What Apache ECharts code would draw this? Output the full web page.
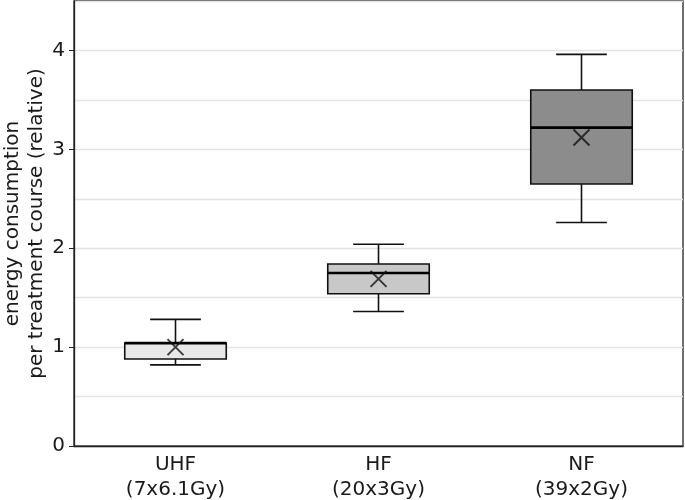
<!DOCTYPE html>
<html>
<head>
<meta charset="utf-8">
<script src="https://cdn.jsdelivr.net/npm/echarts@6/dist/echarts.min.js"></script>
<style>
  html, body { margin: 0; padding: 0; background: #fff; }
  #chart { width: 685px; height: 500px; }
</style>
</head>
<body>
<div id="chart"></div>
<script>
// categories and box statistics
const categories = ['UHF\n(7x6.1Gy)', 'HF\n(20x3Gy)', 'NF\n(39x2Gy)'];
const lowWhisker = [0.82, 1.36, 2.26];
const q1 = [0.88, 1.54, 2.65];
const median = [1.04, 1.75, 3.22];
const q3 = [1.04, 1.84, 3.60];
const highWhisker = [1.28, 2.04, 3.96];
const means = [1.00, 1.69, 3.12];
const yTicks = [0, 1, 2, 3, 4];
const boxColors = ['#e8e8e8', '#c8c8c8', '#8c8c8c'];

const boxData = categories.map((c, i) => [i, lowWhisker[i], q1[i], median[i], q3[i], highWhisker[i]]);
const meanData = means.map((m, i) => [i, m]);

const chart = echarts.init(document.getElementById('chart'));

const renderBox = (params, api) => {
    const i = api.value(0);
    const band = api.size([1, 0])[0];
    const half = band * 0.25;
    const cap = band * 0.125;
    const pLow = api.coord([i, api.value(1)]);
    const pQ1 = api.coord([i, api.value(2)]);
    const pMed = api.coord([i, api.value(3)]);
    const pQ3 = api.coord([i, api.value(4)]);
    const pHigh = api.coord([i, api.value(5)]);
    const x = pLow[0];
    const line = { stroke: '#111', lineWidth: 1.6 };
    return {
        type: 'group',
        children: [
            { type: 'line', shape: { x1: x, y1: pQ3[1], x2: x, y2: pHigh[1] }, style: line },
            { type: 'line', shape: { x1: x, y1: pQ1[1], x2: x, y2: pLow[1] }, style: line },
            { type: 'line', shape: { x1: x - cap, y1: pHigh[1], x2: x + cap, y2: pHigh[1] }, style: line },
            { type: 'line', shape: { x1: x - cap, y1: pLow[1], x2: x + cap, y2: pLow[1] }, style: line },
            {
                type: 'rect',
                shape: { x: x - half, y: pQ3[1], width: half * 2, height: pQ1[1] - pQ3[1] },
                style: { fill: boxColors[i], stroke: '#111', lineWidth: 1.6 }
            },
            { type: 'line', shape: { x1: x - half, y1: pMed[1], x2: x + half, y2: pMed[1] }, style: { stroke: '#000', lineWidth: 2.6 } }
        ]
    };
};

chart.setOption({
    animation: false,
    grid: {
        left: 74, right: 2, top: 1, bottom: 54,
        outerBoundsMode: 'none', containLabel: false,
        show: true, borderColor: '#222', borderWidth: 1.3
    },
    xAxis: {
        type: 'category',
        data: categories,
        boundaryGap: true,
        axisLine: { lineStyle: { color: '#222', width: 1.3 } },
        axisTick: { alignWithLabel: true, length: 5, lineStyle: { color: '#222' } },
        axisLabel: { color: '#1a1a1a', fontSize: 20, lineHeight: 25, margin: 6, fontFamily: 'DejaVu Sans' }
    },
    yAxis: [
        {
            type: 'value',
            min: 0,
            max: 4.5,
            interval: 0.5,
            name: 'energy consumption\nper treatment course (relative)',
            nameLocation: 'middle',
            nameRotate: 90,
            nameGap: 25,
            nameMoveOverlap: false,
            nameTextStyle: { color: '#1a1a1a', fontSize: 20, lineHeight: 24, fontFamily: 'DejaVu Sans' },
            axisLine: { show: true, lineStyle: { color: '#222', width: 1.3 } },
            axisTick: { show: true, length: 5, customValues: yTicks, lineStyle: { color: '#222' } },
            axisLabel: {
                color: '#1a1a1a', fontSize: 20, margin: 9, fontFamily: 'DejaVu Sans',
                customValues: yTicks
            },
            splitLine: { show: false },
            z: 3
        },
        {
            // grid lines every 0.5
            type: 'value',
            min: 0,
            max: 4.5,
            interval: 0.5,
            position: 'left',
            axisLine: { show: false },
            axisTick: { show: false },
            axisLabel: { show: false },
            splitLine: { show: true, lineStyle: { color: '#e4e4e4', width: 1.3 } },
            z: 0
        }
    ],
    series: [
        {
            type: 'custom',
            renderItem: renderBox,
            encode: { x: 0, y: [1, 2, 3, 4, 5] },
            data: boxData,
            z: 2
        },
        {
            type: 'scatter',
            data: meanData,
            symbol: 'path://M0,0L10,10M10,0L0,10',
            symbolSize: 16,
            itemStyle: { color: 'transparent', borderColor: '#111', borderWidth: 2 },
            z: 3
        }
    ]
});
</script>
</body>
</html>
